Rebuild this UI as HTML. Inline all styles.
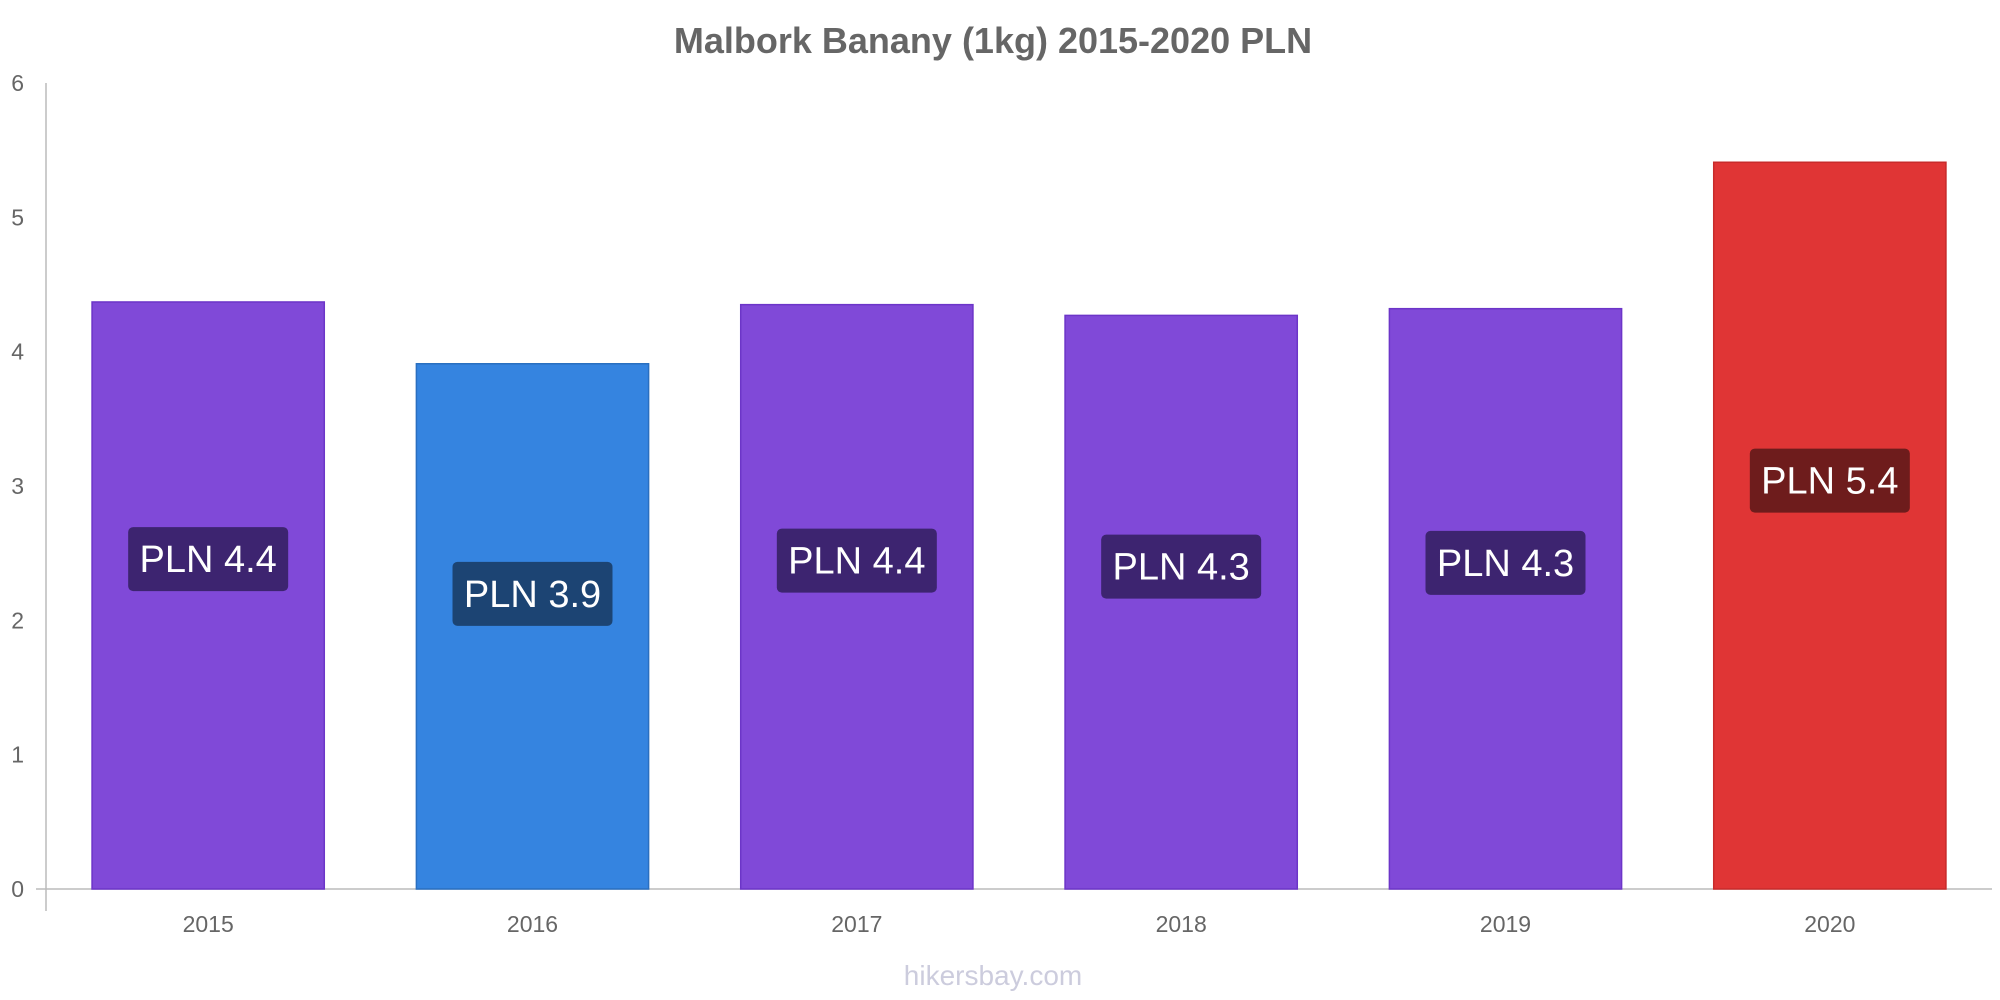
<!DOCTYPE html>
<html><head><meta charset="utf-8"><style>
html,body{margin:0;padding:0;background:#fff;}
svg{display:block;font-family:"Liberation Sans",sans-serif;}
</style></head><body>
<svg id="chart" width="2000" height="1000" viewBox="0 0 2000 1000">
<text x="993" y="53" text-anchor="middle" font-size="36" font-weight="bold" fill="#666">Malbork Banany (1kg) 2015-2020 PLN</text>
<g id="yaxis"></g><g id="bars"></g><g id="xlabels"></g>
<text x="993" y="985" text-anchor="middle" font-size="28" fill="#ccd">hikersbay.com</text>
</svg>
<script>
const categories = ["2015","2016","2017","2018","2019","2020"];
const values = [4.37, 3.91, 4.35, 4.27, 4.32, 5.41];
const labels = ["PLN 4.4","PLN 3.9","PLN 4.4","PLN 4.3","PLN 4.3","PLN 5.4"];
const yTicks = [0,1,2,3,4,5,6];
const ns="http://www.w3.org/2000/svg";
const X0=46, X1=1992, Y0=889, Y1=83, YMAX=6;
const band=(X1-X0)/categories.length, bw=band*0.716;
const y=v=>Y0-(v/YMAX)*(Y0-Y1);
const cx=i=>X0+band*(i+0.5);
function mk(tag,attrs,parent){const e=document.createElementNS(ns,tag);for(const k in attrs)e.setAttribute(k,attrs[k]);parent.appendChild(e);return e;}
const ya=document.getElementById('yaxis');
let l=mk('line',{x1:X0,y1:Y1,x2:X0,y2:Y0+22,stroke:'#bbb','stroke-width':1.5},ya);


l=mk('line',{x1:X0-10,y1:Y0,x2:X1,y2:Y0,stroke:'#bbb','stroke-width':1.5},ya);


yTicks.forEach(t=>{
  const tx=mk('text',{x:24,y:y(t)+8,'text-anchor':'end','font-size':23,fill:'#666'},ya);
  tx.textContent=t;
  
  
});
const bg=document.getElementById('bars'), xl=document.getElementById('xlabels');
const maxV=Math.max(...values), minV=Math.min(...values);
values.forEach((v,i)=>{
  let fill='#8049d8',stroke='#6c35c8',lbg='#3d2470';
  if(v===maxV){fill='#e03535';stroke='#c82b2b';lbg='#6e1c1c';}
  else if(v===minV){fill='#3584e0';stroke='#2a6fc0';lbg='#1c4473';}
  const r=mk('rect',{x:cx(i)-bw/2,y:y(v),width:bw,height:Y0-y(v),fill:fill,stroke:stroke,'stroke-width':1.5},bg);
  
  
  const ly=y(v*0.562);
  const b=mk('rect',{x:cx(i)-80,y:ly-32,width:160,height:64,rx:5,fill:lbg},bg);
  
  
  const t=mk('text',{x:cx(i),y:ly+13,'text-anchor':'middle','font-size':38,fill:'#fff'},bg);
  t.textContent=labels[i];
  
  
  const xt=mk('text',{x:cx(i),y:932,'text-anchor':'middle','font-size':23,fill:'#666'},xl);
  xt.textContent=categories[i];
  
  
});
</script>
</body></html>
